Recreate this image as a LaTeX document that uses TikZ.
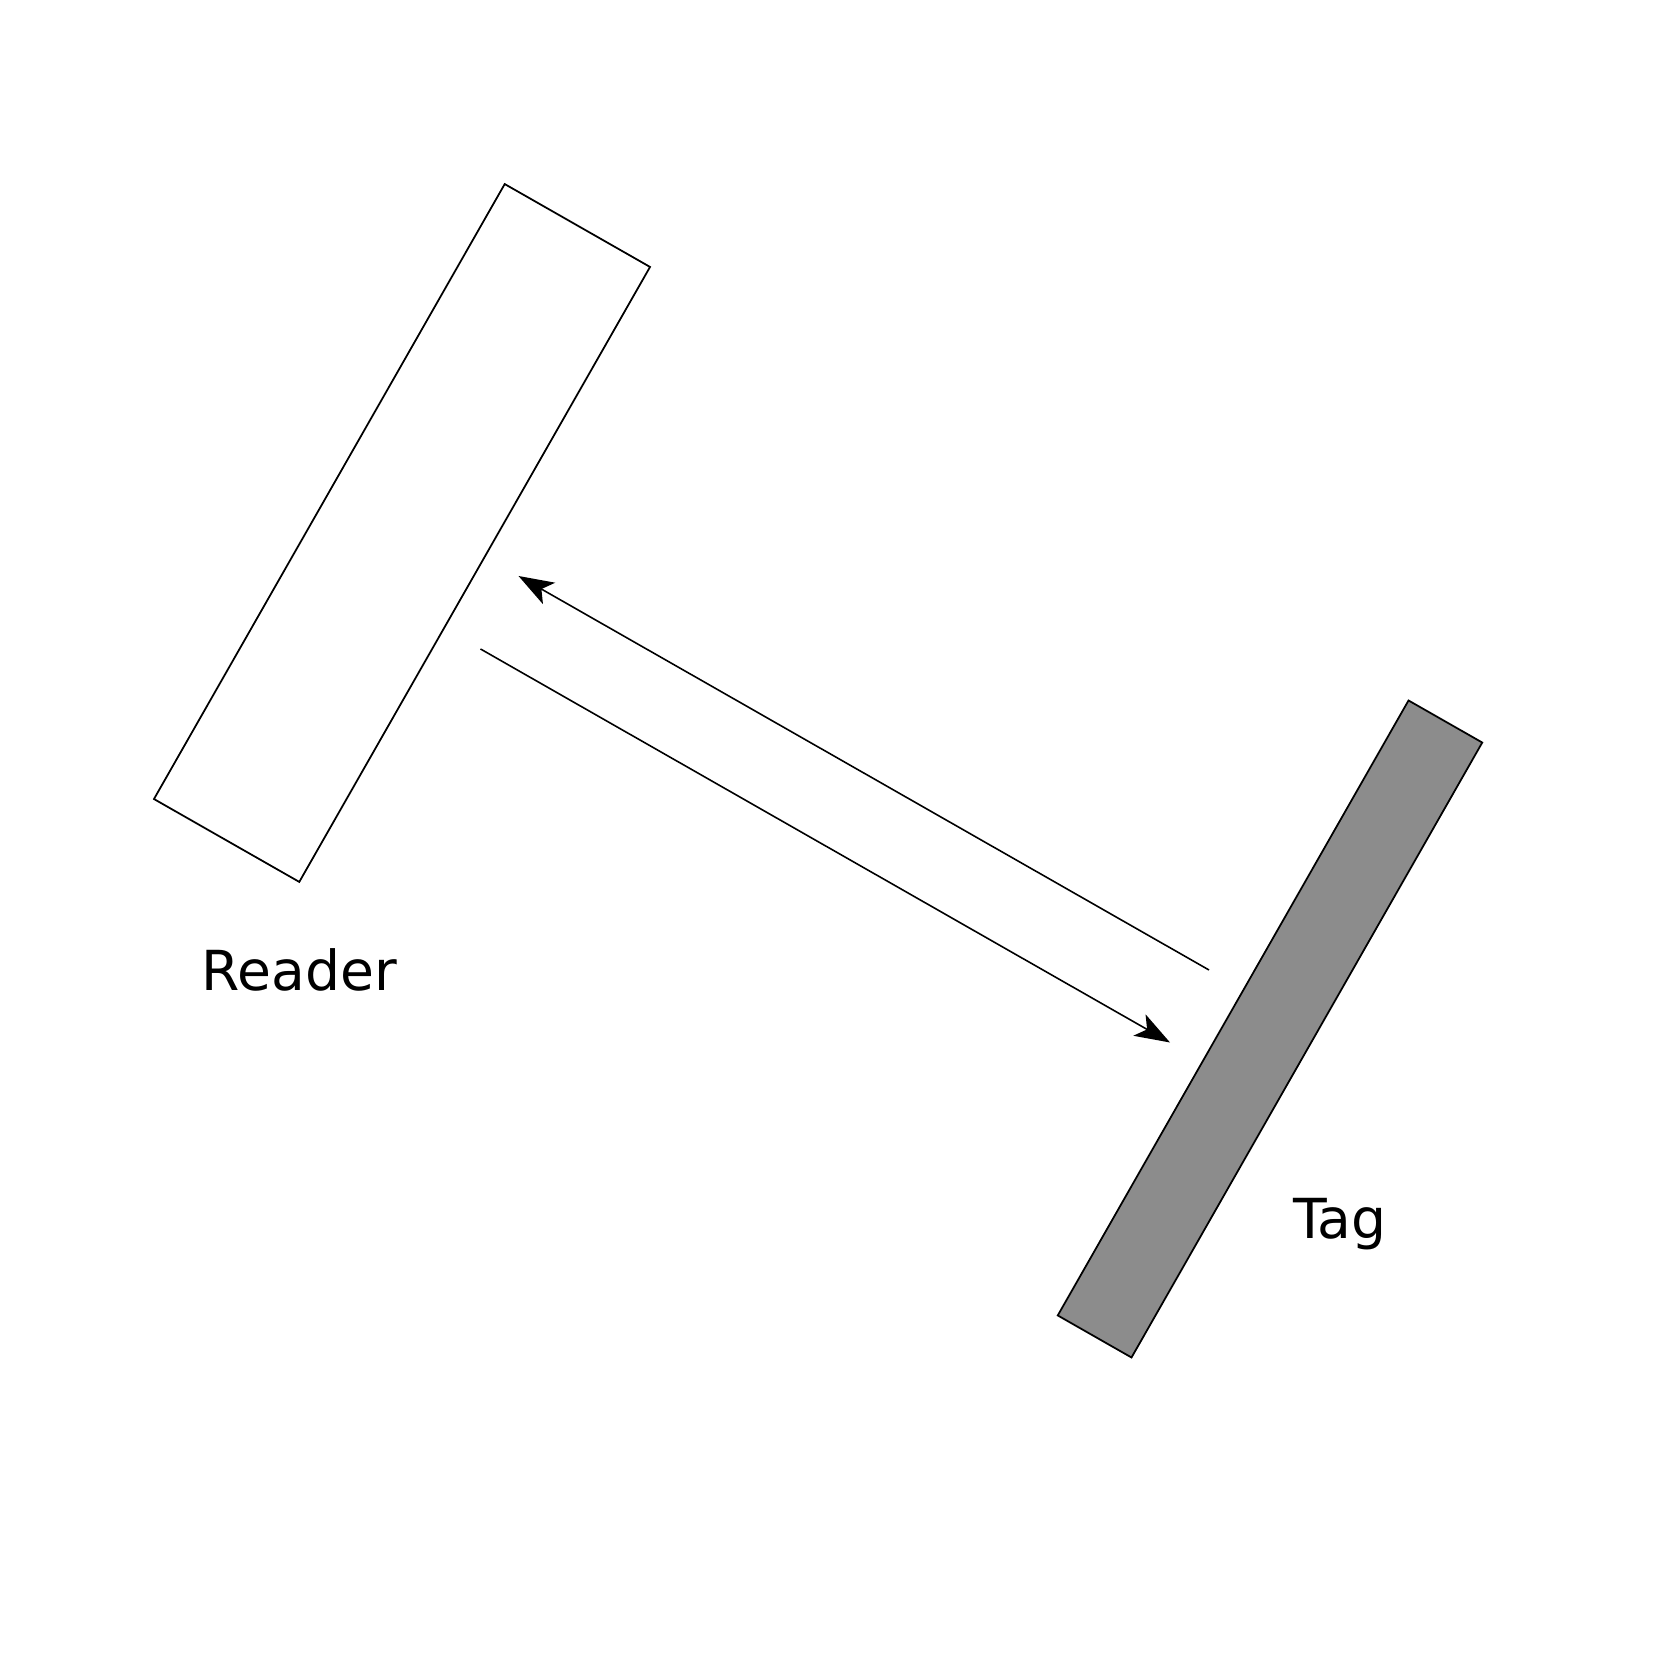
\documentclass[tikz,border=0pt]{standalone}
\usepackage{fontspec}
\setmainfont{DejaVu Sans}
\usepackage{tikz}
\usetikzlibrary{positioning}
\usetikzlibrary{arrows.meta}
\definecolor{taggray}{HTML}{8C8C8C}

\begin{document}
\begin{tikzpicture}[
  mybox/.style={draw,line width=0.5pt,rotate=60.3,minimum width=7.08cm,inner sep=0pt},
  mylabel/.style={anchor=base,font=\fontsize{15.7}{19}\selectfont},
  myarrow/.style={line width=0.45pt,-{Stealth[length=10pt,width=7pt,inset=2.5pt]}}
]
\useasboundingbox (0,0) rectangle (16.54,16.54);

\node[mybox, minimum height=1.673cm] (reader) at (4.02,11.21) {};
\node[mybox, minimum height=0.849cm, fill=taggray] (tag) at (12.70,6.25) {};

\node[mylabel] (readerlabel) at (2.99,6.63) {Reader};
\node[mylabel] (taglabel) at (13.40,4.15) {Tag};

\coordinate (back1) at (12.09,6.84);
\coordinate (back2) at (5.185,10.78);
\coordinate (fwd1) at (4.805,10.05);
\coordinate (fwd2) at (11.70,6.115);

\path (back1) edge[myarrow] (back2)
(fwd1) edge[myarrow] (fwd2)
;

\end{tikzpicture}
\end{document}
